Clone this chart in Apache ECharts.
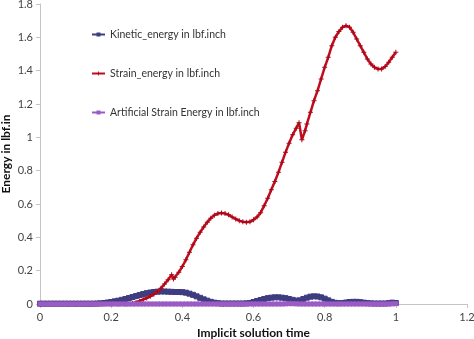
<!DOCTYPE html>
<html>
<head>
<meta charset="utf-8">
<script src="https://cdn.jsdelivr.net/npm/echarts@6/dist/echarts.min.js"></script>
<style>
  html, body { margin: 0; padding: 0; background: #fff; }
  #chart { width: 474px; height: 339px; }
</style>
</head>
<body>
<div id="chart"></div>
<script>
// Energy histories over the implicit solution time (0 .. 1)
const seriesNames = [
  'Kinetic_energy in lbf.inch',
  'Strain_energy in lbf.inch',
  'Artificial Strain Energy in lbf.inch'
];

const kineticTime = [
  0.00,0.01,0.02,0.03,0.04,0.05,0.06,0.07,0.08,0.09,0.10,0.11,0.12,0.13,0.14,0.15,0.16,0.17,0.18,0.19,
  0.20,0.21,0.22,0.23,0.24,0.25,0.26,0.27,0.28,0.29,0.30,0.31,0.32,0.33,0.34,0.35,0.36,0.37,0.38,0.39,
  0.40,0.41,0.42,0.43,0.44,0.45,0.46,0.47,0.48,0.49,0.50,0.51,0.52,0.53,0.54,0.55,0.56,0.57,0.58,0.59,
  0.60,0.61,0.62,0.63,0.64,0.65,0.66,0.67,0.68,0.69,0.70,0.71,0.72,0.73,0.74,0.75,0.76,0.77,0.78,0.79,
  0.80,0.81,0.82,0.83,0.84,0.85,0.86,0.87,0.88,0.89,0.90,0.91,0.92,0.93,0.94,0.95,0.96,0.97,0.98,0.99,1.00
];
const kineticEnergy = [
  0.002,0.002,0.002,0.002,0.002,0.002,0.002,0.002,0.002,0.002,0.002,0.002,0.002,0.002,0.002,0.002,0.003,0.004,0.006,0.009,
  0.012,0.016,0.020,0.025,0.030,0.036,0.042,0.048,0.054,0.060,0.065,0.069,0.072,0.074,0.075,0.075,0.074,0.073,0.072,0.072,
  0.071,0.068,0.062,0.055,0.046,0.037,0.028,0.020,0.013,0.008,0.005,0.003,0.003,0.003,0.003,0.003,0.003,0.003,0.004,0.006,
  0.012,0.018,0.024,0.030,0.035,0.038,0.040,0.040,0.038,0.035,0.030,0.025,0.020,0.022,0.030,0.038,0.044,0.046,0.045,0.040,
  0.032,0.022,0.013,0.007,0.005,0.006,0.009,0.012,0.013,0.013,0.011,0.008,0.005,0.004,0.003,0.003,0.003,0.003,0.005,0.008,0.006
];

const strainTime = [
  0.00,0.02,0.04,0.06,0.08,0.10,0.12,0.14,0.16,0.18,0.20,0.22,0.24,0.25,0.26,0.27,0.28,0.29,
  0.30,0.31,0.32,0.33,0.34,0.35,0.36,0.37,0.375,0.38,0.39,
  0.40,0.41,0.42,0.43,0.44,0.45,0.46,0.47,0.48,0.49,
  0.50,0.51,0.52,0.53,0.54,0.55,0.56,0.57,0.58,0.59,
  0.60,0.61,0.62,0.63,0.64,0.65,0.66,0.67,0.68,0.69,
  0.70,0.71,0.72,0.728,0.736,0.745,0.75,0.76,0.77,0.78,0.79,
  0.80,0.81,0.82,0.83,0.84,0.85,0.86,0.87,0.88,0.89,
  0.90,0.91,0.92,0.93,0.94,0.95,0.96,0.97,0.98,0.99,1.00
];
const strainEnergy = [
  0,0,0,0,0,0,0,0,0,0,0,0,0,0.001,0.004,0.010,0.018,0.027,
  0.036,0.046,0.058,0.075,0.095,0.120,0.145,0.175,0.150,0.160,0.190,
  0.225,0.265,0.310,0.355,0.395,0.430,0.462,0.490,0.515,0.533,
  0.543,0.546,0.543,0.535,0.522,0.510,0.500,0.493,0.490,0.493,
  0.505,0.522,0.548,0.590,0.635,0.685,0.735,0.790,0.850,0.910,
  0.965,1.015,1.055,1.088,0.985,1.040,1.080,1.150,1.220,1.280,1.350,
  1.420,1.480,1.550,1.600,1.635,1.660,1.670,1.660,1.630,1.590,
  1.550,1.510,1.470,1.440,1.420,1.410,1.410,1.425,1.450,1.480,1.510
];

const artificialTime = kineticTime;
const artificialEnergy = [
  0,0,0,0,0,0,0,0,0,0,0,0,0,0,0,0,0,0,0,0,
  0,0,0,0,0,0,0,0,0,0,0,0,0,0,0,0,0,0,0,0,
  0,0,0,0,0,0,0,0,0,0,0,0,0,0,0,0,0,0,0,0,
  0,0,0,0,0,0,0,0,0,0.001,0.002,0.002,0.001,0,0,0,0,0,0,0,
  0,0,0,0,0,0,0,0,0,0,0,0,0,0,0,0,0,0,0,0.001,0.002
];

const xTicks = { min: 0, max: 1.2, step: 0.2 };
const yTicks = { min: 0, max: 1.8, step: 0.2 };

function pairs(xs, ys) { return xs.map((x, i) => [x, ys[i]]); }

const font = 'Lato, "Open Sans", sans-serif';
const axisGray = '#c4c4c4';
const plusPath = 'path://M2,0 h1 v2 h2 v1 h-2 v2 h-1 v-2 h-2 v-1 h2 z';

const chart = echarts.init(document.getElementById('chart'), null, { renderer: 'canvas' });
chart.setOption({
  animation: false,
  backgroundColor: '#ffffff',
  grid: { left: 40, right: 7, top: 4, bottom: 35, containLabel: false, outerBoundsMode: 'none' },
  legend: {
    orient: 'vertical',
    left: 86,
    top: 24,
    itemWidth: 13,
    itemHeight: 5,
    itemGap: 28,
    textStyle: { fontFamily: font, fontSize: 10.5, color: '#333' },
    data: seriesNames
  },
  xAxis: {
    type: 'value',
    min: xTicks.min, max: xTicks.max, interval: xTicks.step,
    name: 'Implicit solution time',
    nameLocation: 'middle',
    nameGap: 23,
    nameMoveOverlap: false,
    nameTextStyle: { fontFamily: font, fontSize: 12, fontWeight: 'bold', color: '#111' },
    axisLine: { lineStyle: { color: axisGray, width: 1 } },
    axisTick: { show: true, length: 4, inside: false, lineStyle: { color: axisGray } },
    axisLabel: { fontFamily: font, fontSize: 11, color: '#444', margin: 8,
      formatter: v => String(+v.toFixed(1)) },
    splitLine: { show: false }
  },
  yAxis: {
    type: 'value',
    min: yTicks.min, max: yTicks.max, interval: yTicks.step,
    name: 'Energy in lbf.in',
    nameLocation: 'middle',
    nameGap: 28,
    nameMoveOverlap: false,
    nameTextStyle: { fontFamily: font, fontSize: 12, fontWeight: 'bold', color: '#111' },
    axisLine: { show: true, lineStyle: { color: axisGray, width: 1 } },
    axisTick: { show: true, length: 4, inside: false, lineStyle: { color: axisGray } },
    axisLabel: { fontFamily: font, fontSize: 11, color: '#444', margin: 7,
      formatter: v => String(+v.toFixed(1)) },
    splitLine: { show: false }
  },
  series: [
    {
      name: seriesNames[0],
      type: 'line',
      data: pairs(kineticTime, kineticEnergy),
      symbol: 'rect',
      symbolSize: 5,
      showAllSymbol: true,
      smooth: false,
      z: 2,
      lineStyle: { color: '#3f3d80', width: 3 },
      itemStyle: { color: '#3f3d80', borderColor: '#3f3d80' }
    },
    {
      name: seriesNames[1],
      type: 'line',
      data: pairs(strainTime, strainEnergy),
      symbol: plusPath,
      symbolSize: 5,
      showAllSymbol: true,
      z: 3,
      lineStyle: { color: '#c00d1e', width: 2.5 },
      itemStyle: { color: '#a8081a' }
    },
    {
      name: seriesNames[2],
      type: 'line',
      data: pairs(artificialTime, artificialEnergy),
      symbol: 'rect',
      symbolSize: 5,
      showAllSymbol: true,
      z: 4,
      lineStyle: { color: '#9a5cc4', width: 2 },
      itemStyle: { color: '#9a5cc4' }
    }
  ]
});
</script>
</body>
</html>
